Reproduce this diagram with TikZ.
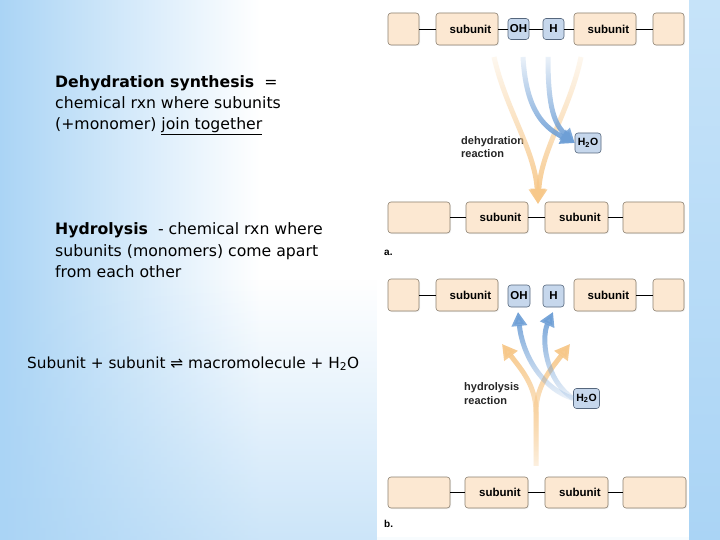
\documentclass[tikz,border=0pt]{standalone}
\usepackage{fontspec}
\setmainfont{DejaVu Sans}
\newfontfamily\labfont{Liberation Sans}
\usetikzlibrary{arrows.meta,fadings,shadows}
\definecolor{bgL}{HTML}{AAD4F5}
\definecolor{bgR}{HTML}{C6E3F9}
\definecolor{peach}{HTML}{FCE8D2}
\definecolor{peachline}{HTML}{8C8070}
\definecolor{bluebox}{HTML}{C6D7EC}
\definecolor{blueline}{HTML}{56677D}
\definecolor{orarrow}{HTML}{F7C88A}
\definecolor{blarrow}{HTML}{6E9FD6}
\tikzfading[name=fadeup, top color=transparent!88, bottom color=transparent!0]
\tikzfading[name=fadedown, top color=transparent!0, bottom color=transparent!88]
\tikzfading[name=bgfade, top color=transparent!100, bottom color=transparent!0]
\begin{document}
\begin{tikzpicture}[x=1pt,y=-1pt,
  unit/.style={draw=peachline, line width=0.6pt, fill=peach, rounded corners=3pt,
    inner sep=0pt, minimum height=32pt,
    drop shadow={opacity=0.12, shadow xshift=1pt, shadow yshift=-1pt},
    font=\labfont\bfseries\fontsize{11.5}{13}\selectfont},
  grp/.style={draw=blueline, line width=0.6pt, fill=bluebox, rounded corners=3pt,
    inner sep=0pt, minimum width=21pt, minimum height=21pt,
    font=\labfont\bfseries\fontsize{11.5}{13}\selectfont},
  wat/.style={grp, minimum width=26pt, minimum height=20pt,
    font=\labfont\bfseries\fontsize{10.5}{12}\selectfont},
  bond/.style={line width=0.8pt, black},
  lt/.style={inner sep=0pt, anchor=base west, font=\fontsize{15.7}{18}\selectfont},
  rl/.style={inner sep=0pt, anchor=base west, font=\labfont\bfseries\fontsize{11}{12}\selectfont, text=black!85},
  oarr/.style={orarrow, line width=5pt, -{Triangle[width=16pt,length=15pt]}},
  barr/.style={blarrow, line width=5pt, -{Triangle[width=15pt,length=14pt]}}
]
\useasboundingbox (0,0) rectangle (720,540);
% background
\fill[white] (0,0) rectangle (720,540);
\shade[left color=bgL, right color=white] (0,0) rectangle (260,540);
\fill[bgL, opacity=0.6, path fading=bgfade] (0,280) rectangle (377,540);
\shade[top color=bgR, bottom color=bgL] (689,0) rectangle (720,540);
\fill[white!92!bgL] (377,537) rectangle (689,540);
\fill[white] (377,0) rectangle (689,537);

% left texts
\node[lt] (d1) at (55,88) {\textbf{Dehydration synthesis}\ \ =};
\node[lt] (d2) at (55,109) {chemical rxn where subunits};
\node[lt] (d3) at (55,130) {(+monomer) \underline{join together}};
\node[lt] (h1) at (55,235) {\textbf{Hydrolysis}\ \ - chemical rxn where};
\node[lt] (h2) at (55,256) {subunits (monomers) come apart};
\node[lt] (h3) at (55,277) {from each other};
\node[lt, font=\fontsize{15.3}{18}\selectfont] (eq) at (27,368) {Subunit + subunit ⇌ macromolecule + H\textsubscript{2}O};

% panel a, top row
\node[unit, minimum width=31pt] (a1l) at (403.5,29) {};
\node[unit, minimum width=62pt] (a1s1) at (467,29) {\hspace*{7pt}subunit};
\node[grp] (a1oh) at (518.5,29) {OH};
\node[grp] (a1h) at (553.5,29) {H};
\node[unit, minimum width=62pt] (a1s2) at (605,29) {\hspace*{7pt}subunit};
\node[unit, minimum width=31pt] (a1r) at (668.5,29) {};
\draw[bond] (a1l) -- (a1s1);
\draw[bond] (a1s1) -- (a1oh);
\draw[bond] (a1oh) -- (a1h);
\draw[bond] (a1h) -- (a1s2);
\draw[bond] (a1s2) -- (a1r);
% panel a, bottom row
\node[unit, minimum width=62pt, minimum height=31pt] (a2l) at (419,217.5) {};
\node[unit, minimum width=62pt, minimum height=31pt] (a2s1) at (497,217.5) {\hspace*{7pt}subunit};
\node[unit, minimum width=63pt, minimum height=31pt] (a2s2) at (576.5,217.5) {\hspace*{7pt}subunit};
\node[unit, minimum width=61pt, minimum height=31pt] (a2r) at (653.5,217.5) {};
\draw[bond] (a2l) -- (a2s1);
\draw[bond] (a2s1) -- (a2s2);
\draw[bond] (a2s2) -- (a2r);
\node[wat] (wa) at (588,143) {H\textsubscript{2}O};
\node[rl] (dr1) at (461,145) {dehydration};
\node[rl] (dr2) at (461,158) {reaction};
\node[inner sep=0pt, anchor=base west, font=\labfont\bfseries\fontsize{10}{12}\selectfont] (la) at (384,255) {a.};
% panel a arrows
\coordinate (oa1) at (494,57);
\coordinate (oa2) at (581,57);
\coordinate (oat) at (538,204);
\coordinate (ba1) at (523,57);
\coordinate (ba2) at (548,57);
\draw[oarr, path fading=fadeup] (oa1) .. controls (506,110) and (535,150) .. (oat);
\draw[oarr, path fading=fadeup] (oa2) .. controls (570,110) and (541,150) .. (oat);
\draw[barr, path fading=fadeup] (ba1) .. controls (526,112) and (545,128) .. (wa.west);
\draw[barr, path fading=fadeup] (ba2) .. controls (548,100) and (552,122) .. (wa.west);

% panel b, top row
\node[unit, minimum width=31pt] (b1l) at (403.5,295) {};
\node[unit, minimum width=62pt] (b1s1) at (467,295) {\hspace*{7pt}subunit};
\node[grp, minimum width=22pt, minimum height=22pt] (b1oh) at (519,296) {OH};
\node[grp, minimum height=22pt] (b1h) at (553.5,296) {H};
\node[unit, minimum width=62pt] (b1s2) at (605,295) {\hspace*{7pt}subunit};
\node[unit, minimum width=31pt] (b1r) at (668.5,295) {};
\draw[bond] (b1l) -- (b1s1);
\draw[bond] (b1s2) -- (b1r);
% panel b, bottom row
\node[unit, minimum width=62pt, minimum height=31pt] (b2l) at (419,492.5) {};
\node[unit, minimum width=63pt, minimum height=31pt] (b2s1) at (496.5,492.5) {\hspace*{7pt}subunit};
\node[unit, minimum width=63pt, minimum height=31pt] (b2s2) at (576.5,492.5) {\hspace*{7pt}subunit};
\node[unit, minimum width=63pt, minimum height=31pt] (b2r) at (654.5,492.5) {};
\draw[bond] (b2l) -- (b2s1);
\draw[bond] (b2s1) -- (b2s2);
\draw[bond] (b2s2) -- (b2r);
\node[wat] (wb) at (586.5,398.5) {H\textsubscript{2}O};
\node[rl] (hr1) at (464,390) {hydrolysis};
\node[rl] (hr2) at (464,404) {reaction};
\node[inner sep=0pt, anchor=base west, font=\labfont\bfseries\fontsize{10}{12}\selectfont] (lb) at (384,527) {b.};
% panel b arrows
\coordinate (ob0) at (536,466);
\coordinate (obm) at (536,412);
\coordinate (obl) at (502,344);
\coordinate (obr) at (570,344);
\coordinate (bbl) at (518,312);
\coordinate (bbr) at (553,312);
\draw[oarr, path fading=fadedown] (ob0) -- (obm) .. controls (536,385) and (520,368) .. (obl);
\draw[oarr, path fading=fadedown] (ob0) -- (obm) .. controls (536,385) and (552,368) .. (obr);
\draw[barr, path fading=fadedown] (wb.west) .. controls (540,388) and (522,352) .. (bbl);
\draw[barr, path fading=fadedown] (wb.west) .. controls (545,380) and (541,338) .. (bbr);
\end{tikzpicture}
\end{document}
